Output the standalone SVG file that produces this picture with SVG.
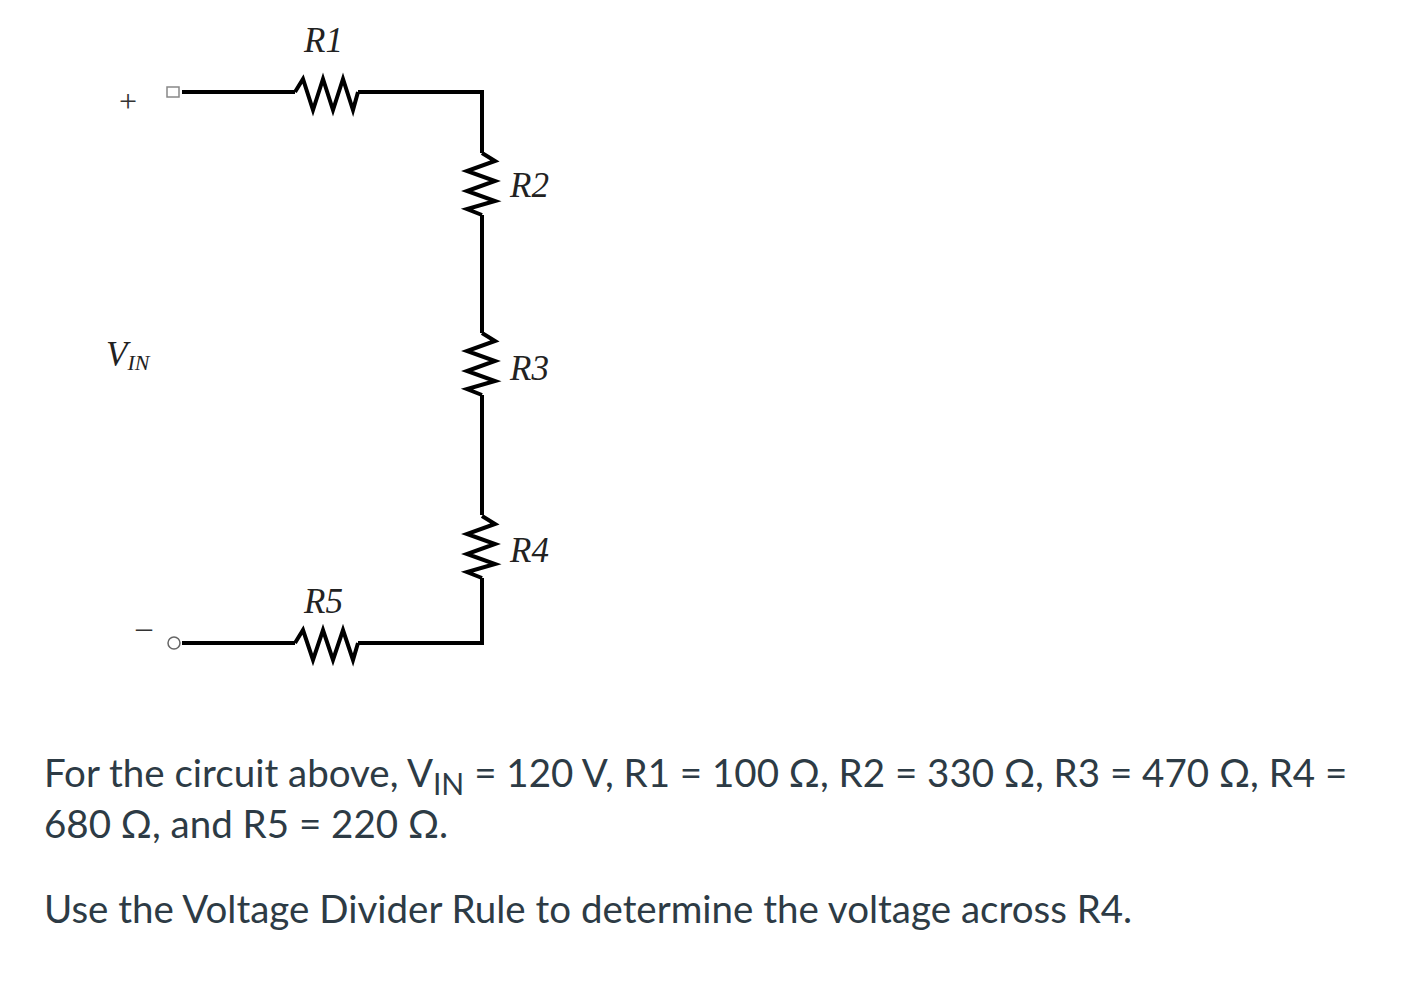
<svg xmlns="http://www.w3.org/2000/svg" width="1408" height="1002" viewBox="0 0 1408 1002">
<style>
.w{fill:none;stroke:#000;stroke-width:4;stroke-linejoin:miter}
.lbl{font-family:"Liberation Serif",serif;font-style:italic;font-size:35px;fill:#222}
.t{font-family:Lato,"Liberation Sans",sans-serif;font-size:38.5px;fill:#2d3b45}
</style>
<rect width="1408" height="1002" fill="#fff"/>
<g id="connectors">
<path class="w" d="M182,92 H295 M358,92 H482 V153 M482,215 V333 M482,395 V515 M482,578 V643 H358 M295,643 H182"/>
</g>
<g id="R1"><path class="w" d="M295,92 L303,79 L313,110 L323,79 L333,110 L343,79 L353,110 L358,92"/><text class="lbl" x="304" y="52">R1</text></g>
<g id="R2"><path class="w" d="M482,153 L495,161 L467,171 L495,181 L467,191 L495,201 L467,209 L482,215"/><text class="lbl" x="510" y="197">R2</text></g>
<g id="R3"><path class="w" d="M482,333 L495,341 L467,351 L495,361 L467,371 L495,381 L467,389 L482,395"/><text class="lbl" x="510" y="380">R3</text></g>
<g id="R4"><path class="w" d="M482,516 L495,524 L467,534 L495,544 L467,554 L495,564 L467,572 L482,578"/><text class="lbl" x="510" y="562">R4</text></g>
<g id="R5"><path class="w" d="M295,643 L303,630 L313,660 L323,630 L333,660 L343,630 L353,660 L358,643"/><text class="lbl" x="304" y="613">R5</text></g>
<g id="terminals">
<rect x="167" y="87" width="12" height="10" fill="none" stroke="#888" stroke-width="1.5"/>
<circle cx="174" cy="643" r="6" fill="none" stroke="#666" stroke-width="1.5"/>
<text x="128" y="112" font-family="Liberation Serif,serif" font-size="32" fill="#333" text-anchor="middle">+</text>
<text x="144" y="638" font-family="Liberation Serif,serif" font-size="32" fill="#333" text-anchor="middle">–</text>
<text class="lbl" x="106" y="366">V<tspan font-size="22" dy="4">IN</tspan></text>
</g>
<g id="text">
<text class="t" x="44" y="787">For the circuit above, V<tspan font-size="30" dy="8">IN</tspan><tspan dy="-8"> = 120 V, R1 = 100 Ω, R2 = 330 Ω, R3 = 470 Ω, R4 =</tspan></text>
<text class="t" x="44" y="838">680 Ω, and R5 = 220 Ω.</text>
<text class="t" x="44" y="923">Use the Voltage Divider Rule to determine the voltage across R4.</text>
</g>
</svg>
